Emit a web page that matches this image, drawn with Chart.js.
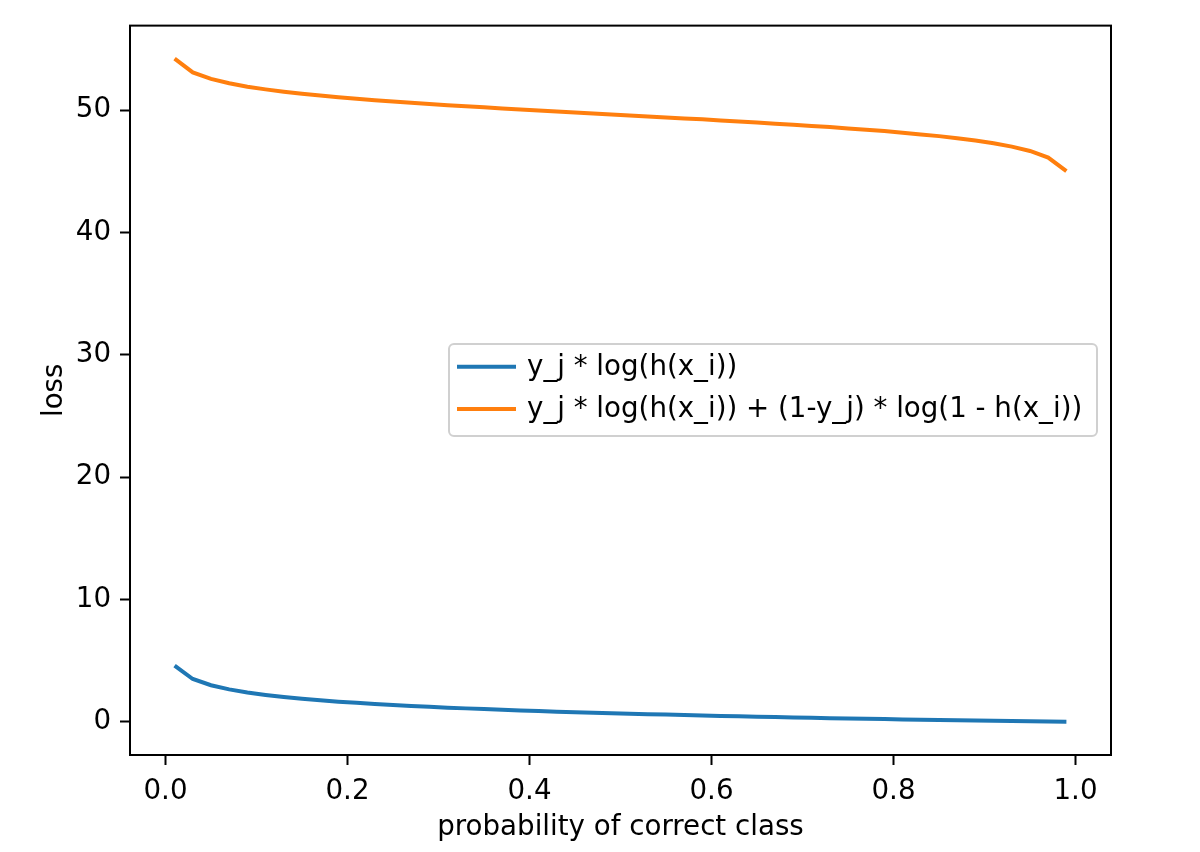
<!DOCTYPE html>
<html>
<head>
<meta charset="utf-8">
<script src="https://cdn.jsdelivr.net/npm/chart.js@4.4.0/dist/chart.umd.min.js"></script>
<style>
  html, body { margin: 0; padding: 0; background: #ffffff; }
  #c { display: block; }
</style>
</head>
<body>
<canvas id="c" width="1200" height="852" style="width:1200px;height:852px"></canvas>
<script>
const probability = [0.01,0.03,0.05,0.07,0.09,0.11,0.13,0.15,0.17,0.19,0.21,0.23,0.25,0.27,0.29,0.31,0.33,0.35,0.37,0.39,0.41,0.43,0.45,0.47,0.49,0.51,0.53,0.55,0.57,0.59,0.61,0.63,0.65,0.67,0.69,0.71,0.73,0.75,0.77,0.79,0.81,0.83,0.85,0.87,0.89,0.91,0.93,0.95,0.97,0.99];
const lossSingle = [4.61,3.51,3.00,2.66,2.41,2.21,2.04,1.90,1.77,1.66,1.56,1.47,1.39,1.31,1.24,1.17,1.11,1.05,0.99,0.94,0.89,0.84,0.80,0.76,0.71,0.67,0.63,0.60,0.56,0.53,0.49,0.46,0.43,0.40,0.37,0.34,0.31,0.29,0.26,0.24,0.21,0.19,0.16,0.14,0.12,0.09,0.07,0.05,0.03,0.01];
const lossBoth = [54.20,53.08,52.55,52.19,51.91,51.69,51.50,51.33,51.19,51.05,50.93,50.81,50.70,50.59,50.50,50.40,50.31,50.22,50.13,50.05,49.96,49.88,49.80,49.72,49.64,49.56,49.48,49.40,49.32,49.24,49.15,49.07,48.98,48.89,48.80,48.70,48.61,48.50,48.39,48.28,48.15,48.01,47.87,47.70,47.51,47.29,47.01,46.66,46.12,45.01];
const seriesLabels = ['y_j * log(h(x_i))', 'y_j * log(h(x_i)) + (1-y_j) * log(1 - h(x_i))'];
const xTickValues = [0.0,0.2,0.4,0.6,0.8,1.0];
const yTickValues = [0,10,20,30,40,50];
const xLabel = 'probability of correct class';
const yLabel = 'loss';

const FONT = 'DejaVu Sans';
const FS = 27.7;

const frameBox = {
  id: 'frameBox',
  afterDatasetsDraw(chart) {
    const {ctx, chartArea: a} = chart;
    ctx.save();
    ctx.strokeStyle = '#000';
    ctx.lineWidth = 2;
    ctx.strokeRect(a.left, a.top, a.right - a.left, a.bottom - a.top);
    ctx.restore();
  }
};

const innerLegend = {
  id: 'innerLegend',
  afterDraw(chart) {
    const ctx = chart.ctx;
    const x0 = 449, y0 = 344, w = 648, h = 92, r = 5;
    ctx.save();
    ctx.beginPath();
    ctx.roundRect(x0, y0, w, h, r);
    ctx.fillStyle = 'rgba(255,255,255,0.8)';
    ctx.fill();
    ctx.strokeStyle = '#d0d0d0';
    ctx.lineWidth = 2;
    ctx.stroke();
    const rows = [366.7, 409];
    ctx.font = FS + 'px "' + FONT + '"';
    ctx.textBaseline = 'middle';
    ctx.textAlign = 'left';
    chart.data.datasets.forEach((ds, i) => {
      const yy = rows[i];
      ctx.beginPath();
      ctx.moveTo(457, yy);
      ctx.lineTo(516, yy);
      ctx.strokeStyle = ds.borderColor;
      ctx.lineWidth = 4;
      ctx.stroke();
      ctx.fillStyle = '#000';
      ctx.fillText(ds.label, 527, yy + 1);
    });
    ctx.restore();
  }
};

const mkPts = (ys) => probability.map((p, i) => ({x: p, y: ys[i]}));

new Chart(document.getElementById('c'), {
  type: 'line',
  data: {
    datasets: [
      { label: seriesLabels[0], data: mkPts(lossSingle), borderColor: '#1f77b4', borderWidth: 4, pointRadius: 0, tension: 0, fill: false },
      { label: seriesLabels[1], data: mkPts(lossBoth), borderColor: '#ff7f0e', borderWidth: 4, pointRadius: 0, tension: 0, fill: false }
    ]
  },
  options: {
    responsive: false,
    animation: false,
    devicePixelRatio: 1,
    layout: { padding: { left: 0, top: 24, right: 89, bottom: 0 } },
    plugins: { legend: { display: false }, tooltip: { enabled: false } },
    scales: {
      x: {
        type: 'linear',
        min: -0.039, max: 1.039,
        afterBuildTicks: (s) => { s.ticks = xTickValues.map(v => ({value: v})); },
        afterFit: (s) => { s.height = 97; },
        grid: { drawOnChartArea: false, drawTicks: true, tickLength: 10, tickWidth: 2, tickColor: '#000' },
        border: { display: true, color: '#000', width: 2 },
        ticks: { color: '#000', font: { family: FONT, size: FS }, padding: 10, maxRotation: 0, autoSkip: false,
                 callback: (v) => Number(v).toFixed(1) },
        title: { display: true, text: xLabel, color: '#000', font: { family: FONT, size: FS }, padding: { top: 0, bottom: 8 } }
      },
      y: {
        type: 'linear',
        min: -2.70, max: 56.90,
        afterBuildTicks: (s) => { s.ticks = yTickValues.map(v => ({value: v})); },
        afterFit: (s) => { s.width = 130; },
        grid: { drawOnChartArea: false, drawTicks: true, tickLength: 10, tickWidth: 2, tickColor: '#000' },
        border: { display: true, color: '#000', width: 2 },
        ticks: { color: '#000', font: { family: FONT, size: FS }, padding: 9, autoSkip: false,
                 callback: (v) => String(v) },
        title: { display: true, text: yLabel, color: '#000', font: { family: FONT, size: FS }, padding: { top: 38, bottom: 0 } }
      }
    }
  },
  plugins: [frameBox, innerLegend]
});
</script>
</body>
</html>
